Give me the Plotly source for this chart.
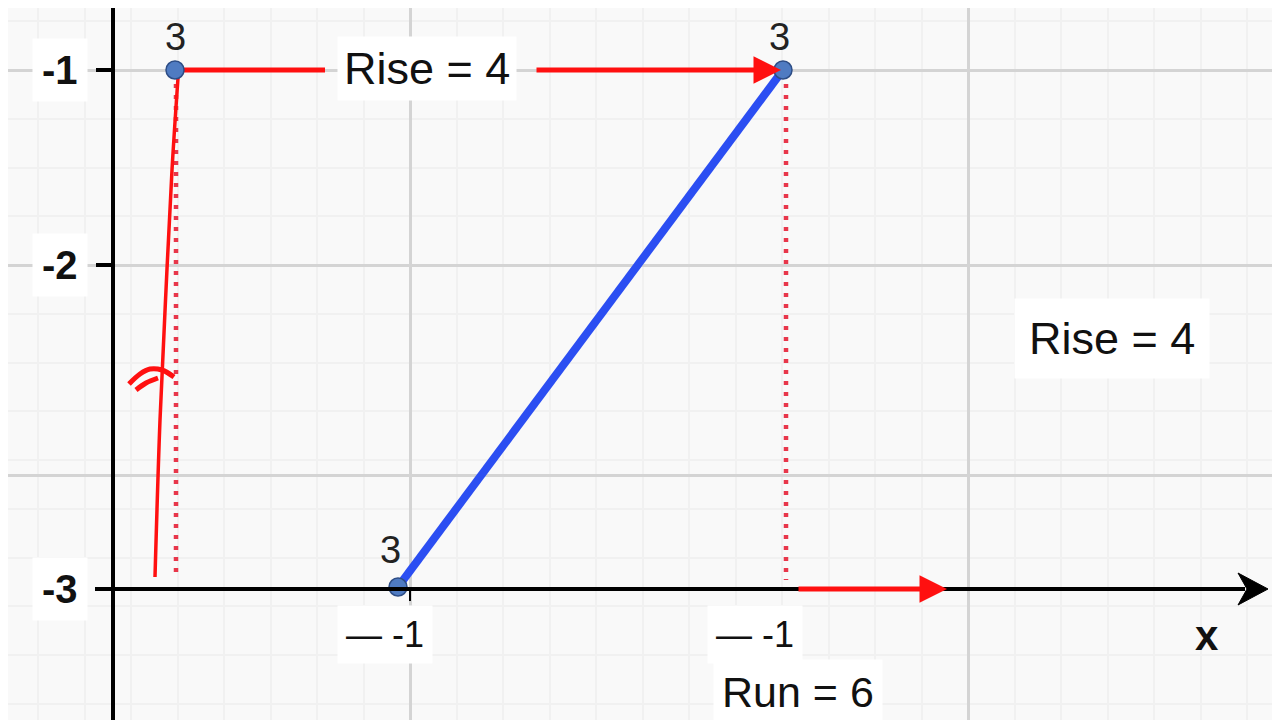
import plotly.graph_objects as go

# ---- data (diagram coordinates: pixel-like units, y grows downward) ----
pt_x = [175, 783, 398]
pt_y = [70, 70, 587]
pt_labels = ["3", "3", "3"]
pt_label_x = [175, 779, 390]
pt_label_y = [37, 37, 550]

seg_x = [398, 783]          # blue segment
seg_y = [587, 70]

dot1_x = [176, 176]; dot1_y = [84, 578]
dot2_x = [786, 786]; dot2_y = [84, 580]

hand_x = [155, 160, 166, 172, 178]
hand_y = [577, 420, 290, 170, 78]
hand_head1_x = [129, 140, 150, 162, 174]; hand_head1_y = [384, 374, 369, 370, 377]
hand_head2_x = [136, 146, 158];           hand_head2_y = [390, 383, 378]

rise_left_x = [180, 325]; rise_y = 70
rise_arrow = (535, 781)
run_arrow = (797, 947)
axis_y = 589
axis_x = 113

ytick_pos = [70, 265, 589]
ytick_text = ["-1", "-2", "-3"]
xtick_pos = [385, 755]
xtick_text = ["\u2014 -1", "\u2014 -1"]

grid_x = [410, 968]
grid_y = [70, 265, 475]

OFF = 8  # page offset of the figure inside the browser window

fig = go.Figure()

fig.add_trace(go.Scatter(x=dot1_x, y=dot1_y, mode="lines",
                         line=dict(color="#e8364a", width=4.5, dash="4px,7px"), hoverinfo="skip"))
fig.add_trace(go.Scatter(x=dot2_x, y=dot2_y, mode="lines",
                         line=dict(color="#e8364a", width=4.5, dash="4px,7px"), hoverinfo="skip"))
fig.add_trace(go.Scatter(x=hand_x, y=hand_y, mode="lines",
                         line=dict(color="#ff1010", width=3.5, shape="spline"), hoverinfo="skip"))
fig.add_trace(go.Scatter(x=hand_head1_x, y=hand_head1_y, mode="lines",
                         line=dict(color="#ff1010", width=5, shape="spline"), hoverinfo="skip"))
fig.add_trace(go.Scatter(x=hand_head2_x, y=hand_head2_y, mode="lines",
                         line=dict(color="#ff1010", width=5, shape="spline"), hoverinfo="skip"))
fig.add_trace(go.Scatter(x=rise_left_x, y=[rise_y, rise_y], mode="lines",
                         line=dict(color="#ff1010", width=5), hoverinfo="skip"))
fig.add_trace(go.Scatter(x=seg_x, y=seg_y, mode="lines",
                         line=dict(color="#2b4ef2", width=8), hoverinfo="skip"))
fig.add_trace(go.Scatter(x=pt_x, y=pt_y, mode="markers",
                         marker=dict(size=18, color="#4f7bc2", line=dict(color="#2d4d86", width=1.5)),
                         hoverinfo="skip"))

shapes = []
shapes.append(dict(type="line", x0=axis_x, x1=axis_x, y0=0, y1=720, xref="x", yref="y",
                   line=dict(color="black", width=4)))
shapes.append(dict(type="line", x0=95, x1=1245, y0=axis_y, y1=axis_y, xref="x", yref="y",
                   line=dict(color="black", width=4)))
shapes.append(dict(type="path", path=f"M 1238 {axis_y-16} L 1268 {axis_y} L 1238 {axis_y+16} L 1247 {axis_y} Z",
                   xref="x", yref="y", fillcolor="black", line=dict(color="black", width=1)))
for yv in ytick_pos:
    shapes.append(dict(type="line", x0=96, x1=axis_x, y0=yv, y1=yv, xref="x", yref="y",
                       line=dict(color="black", width=4)))
shapes.append(dict(type="line", x0=410, x1=410, y0=axis_y, y1=axis_y + 12, xref="x", yref="y",
                   line=dict(color="black", width=2)))

annotations = []
def label(x, y, text, size, bold=False, pad=8, color="#111"):
    t = f"<b>{text}</b>" if bold else text
    annotations.append(dict(x=x, y=y, xref="x", yref="y", text=t, showarrow=False,
                            font=dict(family="Liberation Sans, Arial", size=size, color=color),
                            bgcolor="white", borderpad=pad))

for yv, t in zip(ytick_pos, ytick_text):
    label(60, yv, t, 40, bold=True, pad=9)
for xv, t in zip(xtick_pos, xtick_text):
    label(xv, 634, t, 36, pad=8)
label(427, 68, "Rise = 4", 45, pad=6)
label(1112, 338, "Rise = 4", 45, pad=14)
label(798, 692, "Run = 6", 43, pad=8)
annotations.append(dict(x=1207, y=635, xref="x", yref="y", text="<b>x</b>", showarrow=False,
                        font=dict(family="Liberation Sans, Arial", size=42, color="#111")))
for lx, ly, t in zip(pt_label_x, pt_label_y, pt_labels):
    annotations.append(dict(x=lx, y=ly, xref="x", yref="y", text=t, showarrow=False,
                            font=dict(family="Liberation Sans, Arial", size=38, color="#222")))

annotations.append(dict(x=rise_arrow[1], y=rise_y, ax=rise_arrow[0], ay=rise_y,
                        xref="x", yref="y", axref="x", ayref="y", text="", showarrow=True,
                        arrowhead=2, arrowsize=1.1, arrowwidth=5, arrowcolor="#ff1010"))
annotations.append(dict(x=run_arrow[1], y=axis_y, ax=run_arrow[0], ay=axis_y,
                        xref="x", yref="y", axref="x", ayref="y", text="", showarrow=True,
                        arrowhead=2, arrowsize=1.1, arrowwidth=5, arrowcolor="#ff1010"))

fig.update_layout(
    width=1280 - OFF, height=720 - OFF,
    margin=dict(l=0, r=0, t=0, b=0),
    paper_bgcolor="#f9f9f9", plot_bgcolor="#f9f9f9",
    showlegend=False,
    shapes=shapes, annotations=annotations,
    xaxis=dict(range=[OFF, 1280], showticklabels=False, zeroline=False, ticks="",
               tickmode="array", tickvals=grid_x, showgrid=True, gridcolor="#d4d4d4", gridwidth=3,
               minor=dict(tick0=410, dtick=46.5, showgrid=True, gridcolor="#f1f1f1", gridwidth=1.5),
               fixedrange=True),
    yaxis=dict(range=[720, OFF], showticklabels=False, zeroline=False, ticks="",
               tickmode="array", tickvals=grid_y, showgrid=True, gridcolor="#d4d4d4", gridwidth=3,
               minor=dict(tick0=70, dtick=48.75, showgrid=True, gridcolor="#f1f1f1", gridwidth=1.5),
               fixedrange=True),
)

fig.write_html("out.html", config={"displayModeBar": False})
